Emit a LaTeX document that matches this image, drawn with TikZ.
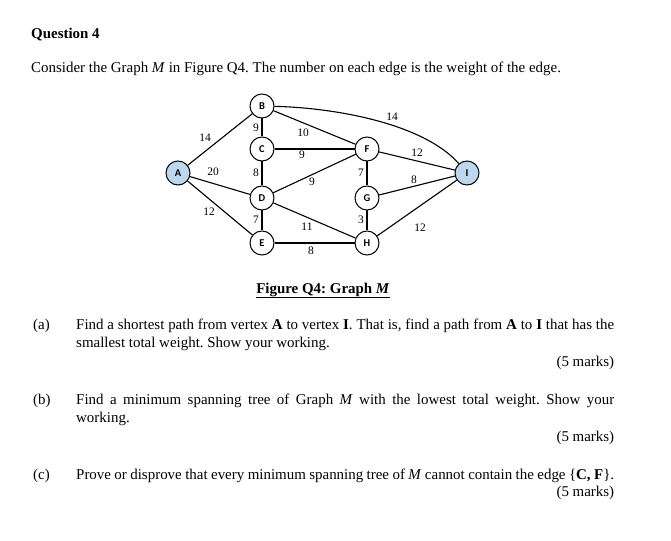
\documentclass[tikz,border=0pt]{standalone}
\usepackage{fontspec}
\setmainfont{Liberation Serif}
\newfontfamily\lab{Carlito}
\frenchspacing
\begin{document}
\begin{tikzpicture}[x=1bp,y=-1bp,
  vtx/.style={circle,draw,line width=1bp,minimum size=24bp,inner sep=0,font=\lab\bfseries\fontsize{10.5}{11}\selectfont},
  hl/.style={vtx,fill={rgb,255:red,189;green,215;blue,238}},
  edge/.style={line width=1.1bp},
  wt/.style={inner sep=0,font=\fontsize{11.5}{12}\selectfont},
  txt/.style={anchor=base west,inner sep=0,font=\fontsize{15}{19}\selectfont}]
\useasboundingbox (0,0) rectangle (671,541);
\fill[white] (0,0) rectangle (671,541);
% vertices
\node[hl] (A) at (178,173) {A};
\node[vtx] (B) at (262,106) {B};
\node[vtx] (C) at (262,149) {C};
\node[vtx] (D) at (262,198) {D};
\node[vtx] (E) at (262,243) {E};
\node[vtx] (F) at (367,149) {F};
\node[vtx] (G) at (367,198) {G};
\node[vtx] (H) at (367,243) {H};
\node[hl] (I) at (467,173) {I};
% edges
\draw[edge] (A) -- (B);
\draw[edge] (A) -- (D);
\draw[edge] (A) -- (E);
\draw[edge] (B) -- (C);
\draw[edge] (B) -- (F);
\draw[edge] (C) -- (F);
\draw[edge] (C) -- (D);
\draw[edge] (D) -- (F);
\draw[edge] (D) -- (E);
\draw[edge] (D) -- (H);
\draw[edge] (E) -- (H);
\draw[edge] (F) -- (G);
\draw[edge] (G) -- (H);
\draw[edge] (F) -- (I);
\draw[edge] (G) -- (I);
\draw[edge] (H) -- (I);
\draw[edge] (B) .. controls (340,108) and (425,125) .. (I);
% weights
\node[wt] (wAB) at (205,138) {14};
\node[wt] (wAD) at (213,172) {20};
\node[wt] (wAE) at (209,212) {12};
\node[wt] (wBC) at (256,128) {9};
\node[wt] (wBF) at (303,133) {10};
\node[wt] (wCF) at (302,155) {9};
\node[wt] (wCD) at (256,173) {8};
\node[wt] (wDF) at (312,182) {9};
\node[wt] (wDE) at (256,220) {7};
\node[wt] (wDH) at (307,227) {11};
\node[wt] (wEH) at (311,251) {8};
\node[wt] (wFG) at (361,173) {7};
\node[wt] (wGH) at (361,220) {3};
\node[wt] (wBI) at (392,117) {14};
\node[wt] (wFI) at (417,153) {12};
\node[wt] (wGI) at (414,180) {8};
\node[wt] (wHI) at (420,228) {12};
% texts
\node[txt] (q) at (31,39) {\textbf{Question 4}};
\node[txt] (intro) at (31,73) {Consider the Graph \textit{M} in Figure Q4. The number on each edge is the weight of the edge.};
\node[txt,anchor=base] (cap) at (323,293) {\textbf{\underline{Figure Q4: Graph \textit{M}}}};
\node[txt] (la) at (33,329) {(a)};
\node[txt] (ta) at (76,329) {\parbox[t]{538bp}{\fontsize{15}{19}\selectfont Find a shortest path from vertex \textbf{A} to vertex \textbf{I}. That is, find a path from \textbf{A} to \textbf{I} that has the\linebreak smallest total weight. Show your working.\par\hfill(5 marks)}};
\node[txt] (lb) at (33,404) {(b)};
\node[txt] (tb) at (76,404) {\parbox[t]{538bp}{\fontsize{15}{19}\selectfont Find a minimum spanning tree of Graph \textit{M} with the lowest total weight. Show your\linebreak working.\par\hfill(5 marks)}};
\node[txt] (lc) at (33,479) {(c)};
\node[txt] (tc) at (76,479) {\parbox[t]{538bp}{\fontsize{15}{18}\selectfont Prove or disprove that every minimum spanning tree of \textit{M} cannot contain the edge \{\textbf{C, F}\}.\par\hfill(5 marks)}};
\end{tikzpicture}
\end{document}
